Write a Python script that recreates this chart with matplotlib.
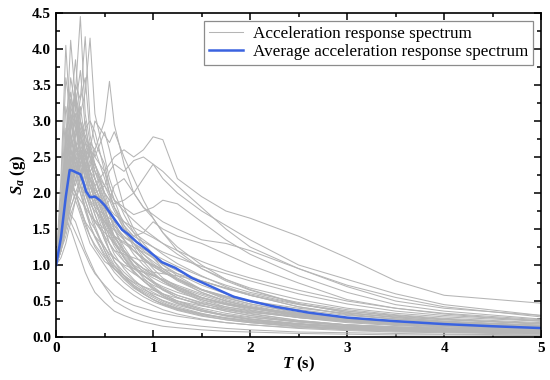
import matplotlib
matplotlib.use('Agg')
import matplotlib.pyplot as plt
from matplotlib.ticker import MultipleLocator

plt.rcParams['font.family'] = 'Liberation Serif'
plt.rcParams['mathtext.fontset'] = 'custom'
plt.rcParams['mathtext.it'] = 'Liberation Serif:italic:bold'
plt.rcParams['mathtext.rm'] = 'Liberation Serif:bold'
plt.rcParams['mathtext.bf'] = 'Liberation Serif:bold'

# periods (s) shared by the single-record spectra
periods = [0, 0.05, 0.1, 0.15, 0.2, 0.25, 0.3, 0.35, 0.4, 0.5, 0.55, 0.6, 0.7,
           0.8, 0.9, 1.0, 1.1, 1.25, 1.5, 1.75, 2.0, 2.5, 3.0, 3.5, 4.0, 5.0]

# Sa (g) of each record
sa_01 = [1.00, 1.55, 2.30, 2.90, 3.40, 4.45, 3.10, 2.70, 2.40, 1.95, 1.70, 1.50, 1.20, 0.98, 0.82, 0.70, 0.60, 0.50, 0.38, 0.30, 0.25, 0.18, 0.13, 0.10, 0.08, 0.06]
sa_02 = [1.00, 1.30, 1.90, 2.50, 2.90, 3.30, 4.17, 3.00, 2.70, 2.40, 2.10, 1.90, 1.55, 1.30, 1.10, 0.95, 0.82, 0.70, 0.55, 0.45, 0.38, 0.27, 0.20, 0.16, 0.13, 0.10]
sa_03 = [1.00, 1.40, 2.00, 2.40, 2.80, 3.10, 3.40, 4.15, 3.10, 2.50, 2.20, 2.00, 1.70, 1.45, 1.25, 1.10, 0.95, 0.80, 0.62, 0.50, 0.42, 0.30, 0.22, 0.18, 0.15, 0.11]
sa_04 = [1.00, 2.20, 4.05, 2.90, 3.10, 2.60, 2.30, 2.00, 1.80, 1.40, 1.20, 1.05, 0.85, 0.70, 0.60, 0.52, 0.45, 0.38, 0.30, 0.24, 0.20, 0.14, 0.10, 0.08, 0.07, 0.05]
sa_05 = [1.00, 1.80, 2.70, 4.12, 3.30, 2.80, 3.00, 2.50, 2.20, 1.80, 1.55, 1.35, 1.10, 0.90, 0.78, 0.68, 0.58, 0.48, 0.38, 0.30, 0.25, 0.18, 0.13, 0.10, 0.09, 0.07]
sa_06 = [1.00, 1.60, 2.50, 3.20, 3.85, 3.00, 2.70, 2.60, 2.30, 1.90, 1.70, 1.50, 1.25, 1.05, 0.90, 0.78, 0.66, 0.55, 0.44, 0.36, 0.30, 0.21, 0.16, 0.12, 0.10, 0.08]
sa_07 = [1.00, 1.30, 1.70, 2.10, 2.40, 2.60, 2.50, 2.70, 2.60, 3.00, 3.55, 2.95, 2.40, 2.00, 1.80, 1.65, 1.45, 1.25, 1.00, 0.80, 0.66, 0.46, 0.34, 0.27, 0.22, 0.16]
sa_08 = [1.00, 1.70, 2.60, 3.60, 3.20, 3.70, 2.90, 3.00, 2.85, 2.30, 2.00, 1.80, 1.50, 1.25, 1.05, 0.90, 0.78, 0.65, 0.50, 0.40, 0.33, 0.23, 0.17, 0.13, 0.11, 0.08]
sa_09 = [1.00, 2.00, 3.60, 3.10, 3.40, 2.80, 2.60, 2.20, 1.90, 1.50, 1.30, 1.15, 0.95, 0.80, 0.68, 0.58, 0.50, 0.42, 0.33, 0.26, 0.21, 0.15, 0.11, 0.09, 0.07, 0.05]
sa_10 = [1.00, 1.50, 2.20, 2.80, 3.50, 3.30, 3.60, 2.80, 2.50, 2.85, 2.60, 2.30, 1.80, 1.50, 1.30, 1.15, 1.00, 0.85, 0.66, 0.52, 0.44, 0.31, 0.23, 0.18, 0.15, 0.11]
sa_11 = [1.00, 1.40, 1.90, 2.30, 2.60, 2.50, 2.80, 2.60, 3.00, 2.80, 2.70, 2.85, 2.50, 2.20, 1.90, 1.65, 1.45, 1.20, 0.95, 0.78, 0.65, 0.46, 0.34, 0.27, 0.22, 0.16]
sa_12 = [1.00, 1.20, 1.60, 1.90, 2.20, 2.40, 2.30, 2.60, 2.50, 2.30, 2.40, 2.50, 2.60, 2.50, 2.60, 2.78, 2.74, 2.20, 1.95, 1.75, 1.65, 1.40, 1.10, 0.78, 0.58, 0.47]
sa_13 = [1.00, 1.30, 1.80, 2.20, 2.50, 2.30, 2.10, 2.20, 2.00, 2.10, 2.30, 2.40, 2.30, 2.45, 2.50, 2.40, 2.20, 2.00, 1.75, 1.55, 1.35, 1.00, 0.80, 0.60, 0.45, 0.30]
sa_14 = [1.00, 1.50, 2.00, 2.60, 2.40, 2.80, 2.50, 2.30, 2.40, 2.00, 1.90, 1.85, 1.90, 2.00, 2.20, 2.40, 2.30, 2.10, 1.80, 1.50, 1.25, 0.95, 0.72, 0.55, 0.42, 0.28]
sa_15 = [1.00, 1.40, 2.10, 2.70, 3.00, 2.60, 2.40, 2.20, 2.10, 2.30, 2.10, 1.90, 1.80, 1.70, 1.75, 1.80, 1.90, 1.85, 1.60, 1.35, 1.15, 0.85, 0.62, 0.45, 0.36, 0.25]
sa_16 = [1.00, 1.60, 2.40, 3.00, 2.70, 2.50, 2.20, 2.40, 2.60, 2.20, 2.00, 1.80, 1.55, 1.40, 1.45, 1.60, 1.50, 1.40, 1.30, 1.15, 1.00, 0.75, 0.52, 0.40, 0.32, 0.22]
sa_17 = [1.00, 1.20, 1.50, 1.80, 2.00, 2.20, 2.40, 2.20, 2.00, 1.80, 1.90, 2.10, 2.20, 2.00, 1.80, 1.70, 1.60, 1.50, 1.35, 1.30, 1.20, 0.95, 0.70, 0.50, 0.40, 0.30]
sa_18 = [1.00, 1.50, 2.20, 2.50, 2.30, 2.60, 2.20, 2.00, 1.80, 1.50, 1.30, 1.20, 1.05, 0.95, 0.90, 0.85, 0.80, 0.72, 0.60, 0.50, 0.42, 0.32, 0.25, 0.20, 0.17, 0.12]
sa_19 = [1.00, 1.30, 1.80, 2.30, 2.70, 2.40, 2.00, 1.90, 1.70, 1.35, 1.20, 1.05, 0.90, 0.78, 0.70, 0.62, 0.55, 0.46, 0.36, 0.30, 0.25, 0.19, 0.15, 0.12, 0.10, 0.07]
sa_20 = [1.00, 1.60, 2.30, 2.00, 2.20, 2.00, 1.80, 1.60, 1.50, 1.20, 1.05, 0.95, 0.80, 0.68, 0.60, 0.52, 0.46, 0.40, 0.32, 0.26, 0.22, 0.16, 0.12, 0.10, 0.08, 0.06]
sa_21 = [1.00, 1.20, 1.60, 2.00, 2.30, 2.50, 2.30, 2.10, 2.00, 1.80, 1.70, 1.55, 1.40, 1.30, 1.20, 1.10, 1.00, 0.88, 0.72, 0.60, 0.50, 0.36, 0.27, 0.21, 0.17, 0.12]
sa_22 = [1.00, 1.40, 2.00, 2.20, 2.00, 1.80, 1.60, 1.50, 1.40, 1.25, 1.15, 1.10, 1.00, 0.95, 0.90, 0.82, 0.75, 0.66, 0.54, 0.46, 0.40, 0.30, 0.24, 0.19, 0.16, 0.12]
sa_23 = [1.00, 1.10, 1.30, 1.60, 1.90, 2.10, 2.00, 1.80, 1.60, 1.40, 1.30, 1.20, 1.15, 1.10, 1.05, 1.00, 0.95, 0.88, 0.78, 0.68, 0.58, 0.42, 0.32, 0.25, 0.20, 0.14]
sa_24 = [1.00, 1.30, 1.70, 2.10, 1.90, 1.70, 1.50, 1.30, 1.20, 1.00, 0.90, 0.80, 0.68, 0.58, 0.50, 0.44, 0.38, 0.32, 0.25, 0.20, 0.17, 0.12, 0.09, 0.07, 0.06, 0.04]
sa_25 = [1.00, 1.50, 1.90, 1.70, 1.60, 1.40, 1.20, 1.05, 0.90, 0.70, 0.60, 0.50, 0.42, 0.35, 0.30, 0.26, 0.23, 0.19, 0.15, 0.12, 0.10, 0.07, 0.06, 0.05, 0.04, 0.03]
sa_26 = [1.00, 1.30, 1.60, 1.50, 1.30, 1.10, 0.90, 0.75, 0.62, 0.48, 0.42, 0.36, 0.30, 0.25, 0.21, 0.18, 0.15, 0.13, 0.10, 0.08, 0.07, 0.05, 0.04, 0.03, 0.03, 0.02]
sa_27 = [1.00, 1.20, 1.50, 1.80, 2.00, 1.80, 1.60, 1.40, 1.25, 1.05, 1.00, 0.95, 0.85, 0.72, 0.62, 0.55, 0.48, 0.40, 0.32, 0.27, 0.23, 0.18, 0.14, 0.12, 0.10, 0.08]
sa_28 = [1.00, 1.60, 2.40, 2.80, 2.50, 2.20, 2.50, 2.30, 2.00, 1.70, 1.50, 1.40, 1.20, 1.00, 0.85, 0.75, 0.65, 0.55, 0.44, 0.36, 0.30, 0.22, 0.17, 0.14, 0.12, 0.09]
sa_29 = [1.00, 1.40, 1.80, 2.40, 2.80, 3.20, 2.70, 2.40, 2.20, 1.80, 1.60, 1.40, 1.15, 1.00, 0.92, 0.85, 0.80, 0.70, 0.58, 0.48, 0.40, 0.29, 0.22, 0.18, 0.15, 0.11]
sa_30 = [1.00, 1.70, 2.80, 3.30, 2.90, 2.60, 2.30, 2.00, 1.85, 1.60, 1.50, 1.40, 1.30, 1.20, 1.10, 1.00, 0.92, 0.80, 0.65, 0.54, 0.46, 0.34, 0.26, 0.21, 0.18, 0.14]
sa_31 = [1.00, 1.20, 1.40, 1.70, 1.90, 2.20, 2.40, 2.60, 2.40, 2.00, 1.90, 1.75, 1.50, 1.30, 1.15, 1.05, 0.95, 0.82, 0.66, 0.55, 0.46, 0.33, 0.25, 0.20, 0.16, 0.12]
sa_32 = [1.00, 1.50, 2.10, 2.60, 3.20, 2.70, 2.40, 2.10, 1.90, 1.55, 1.40, 1.30, 1.12, 0.98, 0.86, 0.76, 0.68, 0.58, 0.47, 0.38, 0.32, 0.23, 0.17, 0.14, 0.12, 0.09]
sa_33 = [1.00, 1.30, 1.80, 2.20, 2.50, 2.70, 2.90, 2.60, 2.30, 2.10, 1.95, 1.80, 1.60, 1.45, 1.35, 1.25, 1.15, 1.02, 0.85, 0.70, 0.58, 0.42, 0.31, 0.25, 0.21, 0.16]
sa_34 = [1.00, 1.60, 2.50, 3.00, 3.40, 3.00, 2.60, 2.30, 2.10, 1.70, 1.55, 1.40, 1.20, 1.05, 0.95, 0.90, 0.88, 0.85, 0.78, 0.68, 0.60, 0.46, 0.36, 0.30, 0.25, 0.18]
sa_35 = [1.00, 1.40, 2.00, 2.30, 2.10, 2.40, 2.60, 2.50, 2.30, 2.00, 1.80, 1.60, 1.35, 1.15, 1.00, 0.88, 0.78, 0.66, 0.52, 0.42, 0.36, 0.27, 0.21, 0.17, 0.15, 0.12]
sa_36 = [1.00, 1.40, 2.10, 2.60, 2.90, 2.50, 2.20, 1.90, 1.70, 1.35, 1.20, 1.10, 0.98, 0.88, 0.80, 0.72, 0.66, 0.58, 0.48, 0.42, 0.37, 0.29, 0.23, 0.19, 0.16, 0.13]
sa_37 = [1.00, 1.70, 2.90, 2.60, 2.30, 2.10, 1.80, 1.55, 1.40, 1.15, 1.05, 0.95, 0.82, 0.72, 0.64, 0.57, 0.51, 0.44, 0.36, 0.31, 0.27, 0.21, 0.17, 0.14, 0.12, 0.09]
sa_38 = [1.00, 1.30, 1.70, 2.00, 2.40, 2.20, 2.40, 2.10, 1.90, 1.60, 1.45, 1.30, 1.10, 0.95, 0.85, 0.77, 0.70, 0.62, 0.52, 0.45, 0.40, 0.31, 0.25, 0.21, 0.18, 0.14]
sa_39 = [1.00, 1.50, 2.30, 3.10, 2.70, 2.30, 2.00, 1.80, 1.55, 1.20, 1.08, 0.98, 0.85, 0.76, 0.70, 0.65, 0.60, 0.54, 0.46, 0.40, 0.35, 0.27, 0.22, 0.18, 0.15, 0.11]
sa_40 = [1.00, 1.20, 1.60, 2.10, 2.60, 3.00, 2.80, 2.50, 2.20, 1.85, 1.70, 1.55, 1.35, 1.20, 1.08, 0.98, 0.90, 0.80, 0.66, 0.57, 0.50, 0.40, 0.33, 0.28, 0.24, 0.19]
sa_41 = [1.00, 1.60, 2.20, 2.00, 2.40, 2.10, 1.90, 1.70, 1.60, 1.45, 1.38, 1.30, 1.18, 1.05, 0.95, 0.86, 0.78, 0.68, 0.55, 0.46, 0.40, 0.31, 0.25, 0.21, 0.18, 0.14]
sa_42 = [1.00, 1.40, 1.90, 2.20, 2.60, 2.80, 2.50, 2.30, 2.10, 1.75, 1.60, 1.50, 1.38, 1.30, 1.22, 1.15, 1.08, 0.98, 0.84, 0.72, 0.62, 0.48, 0.38, 0.31, 0.26, 0.20]
sa_43 = [1.00, 1.30, 1.90, 2.50, 2.30, 2.00, 1.75, 1.55, 1.38, 1.12, 1.00, 0.90, 0.76, 0.65, 0.56, 0.49, 0.44, 0.37, 0.29, 0.24, 0.20, 0.15, 0.12, 0.10, 0.08, 0.06]
sa_44 = [1.00, 1.50, 2.10, 2.40, 2.70, 2.40, 2.60, 2.30, 2.20, 1.90, 1.75, 1.62, 1.45, 1.30, 1.15, 1.02, 0.92, 0.78, 0.62, 0.50, 0.42, 0.30, 0.22, 0.17, 0.14, 0.10]
sa_45 = [1.00, 1.20, 1.50, 1.90, 2.20, 2.50, 2.70, 2.50, 2.40, 2.10, 2.00, 1.90, 1.75, 1.62, 1.50, 1.40, 1.30, 1.15, 0.95, 0.80, 0.68, 0.52, 0.40, 0.33, 0.28, 0.22]
sa_46 = [1.00, 1.80, 3.20, 2.80, 2.50, 2.20, 1.90, 1.70, 1.50, 1.25, 1.12, 1.00, 0.86, 0.75, 0.66, 0.60, 0.55, 0.50, 0.43, 0.38, 0.34, 0.28, 0.23, 0.20, 0.17, 0.14]
sa_47 = [1.00, 1.40, 2.00, 2.70, 3.10, 2.80, 2.40, 2.10, 1.95, 1.65, 1.50, 1.38, 1.20, 1.06, 0.95, 0.86, 0.78, 0.68, 0.55, 0.47, 0.41, 0.33, 0.27, 0.23, 0.20, 0.16]
sa_48 = [1.00, 1.30, 1.80, 2.10, 2.00, 1.90, 1.80, 1.70, 1.62, 1.50, 1.45, 1.40, 1.32, 1.25, 1.18, 1.10, 1.02, 0.92, 0.78, 0.67, 0.58, 0.45, 0.36, 0.29, 0.24, 0.18]
sa_49 = [1.00, 1.60, 2.40, 2.20, 2.00, 1.75, 1.55, 1.40, 1.28, 1.10, 1.02, 0.94, 0.82, 0.70, 0.60, 0.52, 0.46, 0.39, 0.31, 0.26, 0.22, 0.17, 0.14, 0.12, 0.10, 0.08]
sa_50 = [1.00, 1.20, 1.60, 2.00, 2.30, 2.60, 2.40, 2.20, 2.05, 1.85, 1.78, 1.70, 1.60, 1.52, 1.45, 1.38, 1.30, 1.20, 1.05, 0.92, 0.82, 0.65, 0.50, 0.40, 0.33, 0.24]
sa_51 = [1.00, 1.50, 2.20, 2.90, 3.30, 2.90, 2.50, 2.20, 2.00, 1.65, 1.48, 1.32, 1.10, 0.92, 0.78, 0.66, 0.57, 0.47, 0.36, 0.29, 0.24, 0.18, 0.14, 0.11, 0.09, 0.07]
sa_52 = [1.00, 1.30, 1.70, 2.20, 2.50, 2.30, 2.00, 1.85, 1.75, 1.60, 1.55, 1.48, 1.35, 1.20, 1.08, 0.98, 0.90, 0.80, 0.66, 0.56, 0.49, 0.38, 0.30, 0.25, 0.21, 0.16]
sa_53 = [1.00, 1.70, 2.60, 3.40, 3.00, 2.60, 2.30, 2.10, 1.90, 1.55, 1.40, 1.26, 1.05, 0.90, 0.78, 0.68, 0.60, 0.50, 0.40, 0.33, 0.28, 0.21, 0.16, 0.13, 0.11, 0.08]
sa_54 = [1.00, 1.40, 1.80, 1.60, 1.45, 1.30, 1.15, 1.00, 0.88, 0.72, 0.65, 0.58, 0.50, 0.44, 0.40, 0.36, 0.33, 0.29, 0.24, 0.20, 0.17, 0.13, 0.11, 0.09, 0.08, 0.06]
sa_55 = [1.00, 1.30, 1.90, 2.30, 2.70, 2.40, 2.10, 1.90, 1.80, 1.70, 1.65, 1.60, 1.50, 1.40, 1.32, 1.25, 1.18, 1.10, 0.98, 0.88, 0.78, 0.60, 0.46, 0.36, 0.30, 0.23]

# average spectrum (blue)
avg_t = [0, 0.05, 0.1, 0.14, 0.17, 0.2, 0.25, 0.28, 0.31, 0.35, 0.4, 0.45, 0.5, 0.6, 0.68,
         0.75, 0.83, 0.95, 1.09, 1.23, 1.4, 1.6, 1.83, 2.0, 2.26, 2.6, 3.0, 3.5, 4.0, 4.5, 5.0]
avg_sa = [1.0, 1.38, 1.95, 2.32, 2.31, 2.29, 2.26, 2.15, 2.02, 1.94, 1.95, 1.9, 1.83, 1.64, 1.49,
          1.42, 1.32, 1.2, 1.04, 0.96, 0.82, 0.7, 0.56, 0.5, 0.42, 0.34, 0.27, 0.22, 0.18, 0.15, 0.125]

records = [sa_01, sa_02, sa_03, sa_04, sa_05, sa_06, sa_07, sa_08, sa_09, sa_10,
           sa_11, sa_12, sa_13, sa_14, sa_15, sa_16, sa_17, sa_18, sa_19, sa_20,
           sa_21, sa_22, sa_23, sa_24, sa_25, sa_26, sa_27, sa_28, sa_29, sa_30,
           sa_31, sa_32, sa_33, sa_34, sa_35, sa_36, sa_37, sa_38, sa_39, sa_40,
           sa_41, sa_42, sa_43, sa_44, sa_45, sa_46, sa_47, sa_48, sa_49, sa_50,
           sa_51, sa_52, sa_53, sa_54, sa_55]

fig = plt.figure(figsize=(5.5, 3.8), dpi=100)
ax = fig.add_axes([0.102, 0.113, 0.882, 0.853])

for i, sa in enumerate(records):
    ax.plot(periods, sa, color='#b5b5b5', lw=0.75,
            label='Acceleration response spectrum' if i == 0 else None)
ax.plot(avg_t, avg_sa, color='#3a63e0', lw=1.8, label='Average acceleration response spectrum')

ax.set_xlim(0, 5)
ax.set_ylim(0, 4.5)
ax.xaxis.set_major_locator(MultipleLocator(1))
ax.xaxis.set_minor_locator(MultipleLocator(0.5))
ax.yaxis.set_major_locator(MultipleLocator(0.5))
ax.yaxis.set_minor_locator(MultipleLocator(0.25))
ax.yaxis.set_major_formatter(plt.FormatStrFormatter('%.1f'))
ax.tick_params(which='both', direction='in', top=True, right=True, width=1.1)
ax.tick_params(which='major', length=5, labelsize=11)
ax.tick_params(which='minor', length=3)
for lbl in ax.get_xticklabels() + ax.get_yticklabels():
    lbl.set_fontweight('bold')
for sp in ax.spines.values():
    sp.set_linewidth(1.2)

ax.set_xlabel('$T$ (s)', fontsize=12, fontweight='bold', labelpad=0)
ax.set_ylabel('$S_a$ (g)', fontsize=12, fontweight='bold', labelpad=3)

leg = ax.legend(loc='upper right', fontsize=12.3, fancybox=False, framealpha=1,
                edgecolor='#8c8c8c', handlelength=2.0, borderaxespad=0.5,
                borderpad=0.25, labelspacing=0.15, handletextpad=0.6)
leg.get_frame().set_linewidth(0.9)

fig.savefig('out.png', dpi=100)
